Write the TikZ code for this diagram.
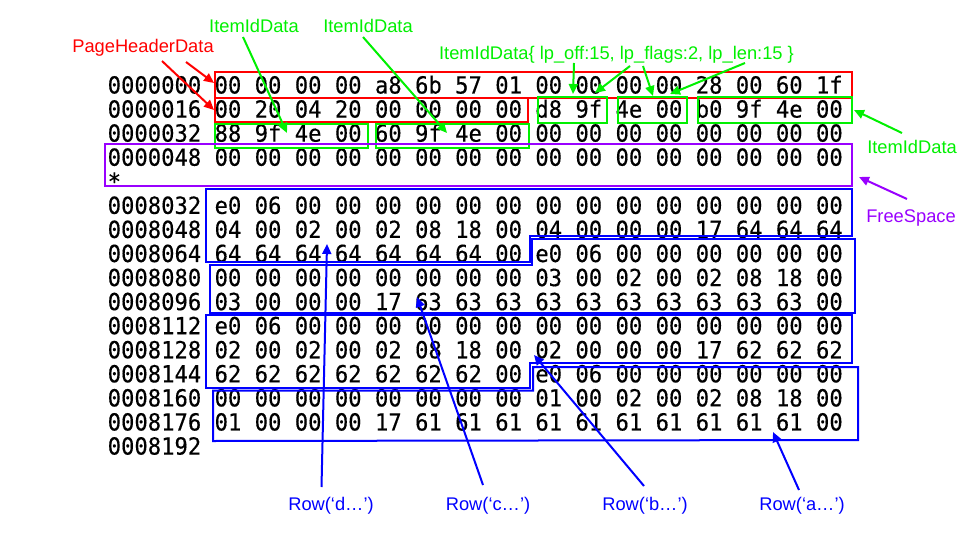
\documentclass[tikz,border=0pt]{standalone}
\usepackage{fontspec}
\setmainfont{Liberation Sans}
\newfontfamily\hexfont[FakeBold=0.4]{DejaVu Sans Mono}
\usetikzlibrary{arrows.meta}
\definecolor{pgred}{RGB}{255,0,0}
\definecolor{pggreen}{RGB}{0,240,0}
\definecolor{pgpurple}{RGB}{153,0,255}
\definecolor{pgblue}{RGB}{0,0,255}
\begin{document}
\begin{tikzpicture}[x=1pt,y=-1pt,
  hexline/.style={anchor=base west,inner sep=0pt,font=\hexfont\fontsize{22.2}{24}\selectfont},
  lbl/.style={anchor=base,inner sep=0pt,font=\fontsize{18.3}{20}\selectfont},
  box/.style={line width=2pt},
  arr/.style={line width=2pt,-{Triangle[length=10pt,width=9pt]}},
]
\useasboundingbox[fill=white] (0,0) rectangle (960,540);

% hex dump lines
\foreach \i/\txt in {
 0/{0000000 00 00 00 00 a8 6b 57 01 00 00 00 00 28 00 60 1f},
 1/{0000016 00 20 04 20 00 00 00 00 d8 9f 4e 00 b0 9f 4e 00},
 2/{0000032 88 9f 4e 00 60 9f 4e 00 00 00 00 00 00 00 00 00},
 3/{0000048 00 00 00 00 00 00 00 00 00 00 00 00 00 00 00 00},
 4/{*},
 5/{0008032 e0 06 00 00 00 00 00 00 00 00 00 00 00 00 00 00},
 6/{0008048 04 00 02 00 02 08 18 00 04 00 00 00 17 64 64 64},
 7/{0008064 64 64 64 64 64 64 64 00 e0 06 00 00 00 00 00 00},
 8/{0008080 00 00 00 00 00 00 00 00 03 00 02 00 02 08 18 00},
 9/{0008096 03 00 00 00 17 63 63 63 63 63 63 63 63 63 63 00},
 10/{0008112 e0 06 00 00 00 00 00 00 00 00 00 00 00 00 00 00},
 11/{0008128 02 00 02 00 02 08 18 00 02 00 00 00 17 62 62 62},
 12/{0008144 62 62 62 62 62 62 62 00 e0 06 00 00 00 00 00 00},
 13/{0008160 00 00 00 00 00 00 00 00 01 00 02 00 02 08 18 00},
 14/{0008176 01 00 00 00 17 61 61 61 61 61 61 61 61 61 61 00},
 15/{0008192}}
 \node[hexline] (hex\i) at (107.5,{93.5+24.07*\i}) {\scalebox{1}[1.06]{\txt}};

% red header boxes
\draw[box,pgred] (215,72) rectangle (852,98.5);
\draw[box,pgred] (215,98.5) rectangle (528,122.5);
% green item id boxes
\draw[box,pggreen] (215,124) rectangle (368,148);
\draw[box,pggreen] (376,124) rectangle (529,148);
\draw[box,pggreen] (538,97) rectangle (607,123);
\draw[box,pggreen] (618,97) rectangle (687,123);
\draw[box,pggreen] (698,97) rectangle (852,123);
% purple free space
\draw[box,pgpurple] (105,144) rectangle (852,186);
% blue rows
\draw[box,pgblue] (206,189) -- (852,189) -- (852,236) -- (530,236) -- (530,262) -- (206,262) -- cycle;
\draw[box,pgblue] (532,238.5) -- (855,238.5) -- (855,312.5) -- (210,312.5) -- (210,265) -- (532,265) -- cycle;
\draw[box,pgblue] (206,315) -- (852,315) -- (852,363) -- (530,363) -- (530,388) -- (206,388) -- cycle;
\draw[box,pgblue] (533,367) -- (858,367) -- (858,440) -- (213,441) -- (213,390.5) -- (533,390.5) -- cycle;

% labels
\node[lbl,text=pgred] (phd) at (143,53) {PageHeaderData};
\node[lbl,text=pggreen] (iid1) at (254,32.5) {ItemIdData};
\node[lbl,text=pggreen] (iid2) at (368,32.5) {ItemIdData};
\node[lbl,text=pggreen] (iidl) at (616.5,60) {ItemIdData\{ lp\_off:15, lp\_flags:2, lp\_len:15 \}};
\node[lbl,text=pggreen] (iid3) at (912,154) {ItemIdData};
\node[lbl,text=pgpurple] (free) at (911,222) {FreeSpace};
\node[lbl,text=pgblue] (rowd) at (331,510) {Row(‘d…’)};
\node[lbl,text=pgblue] (rowc) at (488,510) {Row(‘c…’)};
\node[lbl,text=pgblue] (rowb) at (645,510) {Row(‘b…’)};
\node[lbl,text=pgblue] (rowa) at (802,510) {Row(‘a…’)};

% arrow end points
\coordinate (phs1) at (186,62);  \coordinate (pht1) at (214,83);
\coordinate (phs2) at (162,61);  \coordinate (pht2) at (214,110);
\coordinate (i1s) at (243,37);   \coordinate (i1t) at (287,133);
\coordinate (i2s) at (363,37);   \coordinate (i2t) at (447,133);
\coordinate (lps1) at (574,63);  \coordinate (lpt1) at (573,94);
\coordinate (lps2) at (630,66);  \coordinate (lpt2) at (595,93);
\coordinate (lps3) at (643,66);  \coordinate (lpt3) at (653,96);
\coordinate (lps4) at (745,63);  \coordinate (lpt4) at (670,94);
\coordinate (i3s) at (902,133);  \coordinate (i3t) at (854,110);
\coordinate (fs) at (907,199);   \coordinate (ft) at (859,177);
\coordinate (rds) at (321.5,487); \coordinate (rdt) at (327,244);
\coordinate (rcs) at (483,485);  \coordinate (rct) at (417,297);
\coordinate (rbs) at (644,486);  \coordinate (rbt) at (534,355);
\coordinate (ras) at (799,490);  \coordinate (rat) at (773,432);

\draw[arr,pgred] (phs1) -- (pht1);
\draw[arr,pgred] (phs2) -- (pht2);
\draw[arr,pggreen] (i1s) -- (i1t);
\draw[arr,pggreen] (i2s) -- (i2t);
\draw[arr,pggreen] (lps1) -- (lpt1);
\draw[arr,pggreen] (lps2) -- (lpt2);
\draw[arr,pggreen] (lps3) -- (lpt3);
\draw[arr,pggreen] (lps4) -- (lpt4);
\draw[arr,pggreen] (i3s) -- (i3t);
\draw[arr,pgpurple] (fs) -- (ft);
\draw[arr,pgblue] (rds) -- (rdt);
\draw[arr,pgblue] (rcs) -- (rct);
\draw[arr,pgblue] (rbs) -- (rbt);
\draw[arr,pgblue] (ras) -- (rat);
\end{tikzpicture}
\end{document}
